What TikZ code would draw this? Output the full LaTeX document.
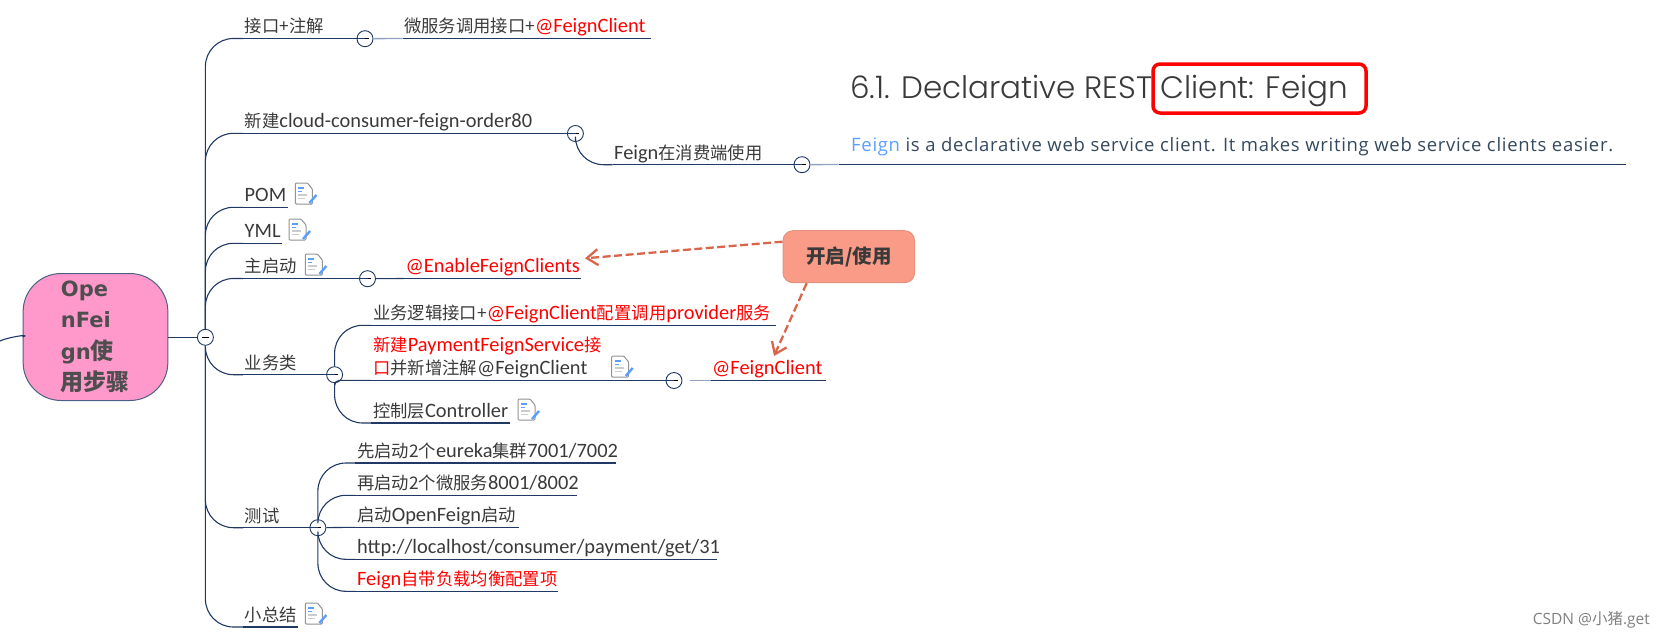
\documentclass[tikz,border=0pt]{standalone}
\usepackage{fontspec}
\setmainfont{Carlito}
\newfontfamily\cjk[Scale=0.85]{Noto Sans CJK SC}
\newfontfamily\cjkfull{Noto Sans CJK SC}
\newfontfamily\headfont{DejaVu Sans}
\newfontfamily\docfont{Poppins Light}
\newfontfamily\bodyfont[LetterSpace=3.8]{Open Sans}
\newfontfamily\markfont{Open Sans}
\definecolor{linknavy}{HTML}{1F3864}
\definecolor{linkpale}{HTML}{8FA3C0}
\definecolor{inkgray}{HTML}{3A3A3A}
\definecolor{rootpink}{HTML}{FF99CC}
\definecolor{noteorange}{HTML}{F99B87}
\definecolor{noteline}{HTML}{D9654B}
\definecolor{docblue}{HTML}{5C9EFF}
\definecolor{docink}{HTML}{34495E}
\usetikzlibrary{arrows.meta,positioning,calc}
\newcommand{\zh}[1]{{\cjk #1}}
\newcommand{\rd}[1]{\textcolor{red}{#1}}
\tikzset{
  topic/.style={text width=#1pt-3pt,anchor=south west,inner xsep=1.5pt,inner ysep=5.5pt,text depth=0pt,align=left,
    font=\fontsize{20.4}{23}\selectfont,text=inkgray},
  link/.style={draw=linknavy,line width=1.1pt,rounded corners=28pt},
  under/.style={draw=linknavy,line width=1.1pt},
  palelink/.style={draw=linkpale,line width=1.3pt},
  fold/.style={circle,draw=linknavy,fill=white,line width=0.9pt,minimum size=16pt,inner sep=0pt,
    path picture={\draw[black,line width=1.1pt]
      ([xshift=-3.5pt]path picture bounding box.center) -- ([xshift=3.5pt]path picture bounding box.center);}},
  callarrow/.style={draw=noteline,line width=2.3pt,dash pattern=on 8pt off 3.5pt,
    -{Straight Barb[length=11pt,width=16pt,line width=2.3pt]}},
  noteicon/.pic={
    \draw[gray!85,fill=white,line width=1pt,rounded corners=1pt] (0,0) -- (12,0) -- (17,6) -- (17,21) -- (0,21) -- cycle;
    \draw[docblue,line width=1.3pt] (3,5) -- (9,5) (3,8.5) -- (7,8.5);
    \draw[gray!40,line width=1.1pt] (3,12) -- (12,12) (3,15.5) -- (10,15.5);
    \draw[docblue,line width=2.4pt] (14,20) -- (21,12);
  }
}
\begin{document}
\begin{tikzpicture}[x=1pt,y=-1pt]
\useasboundingbox (0,0) rectangle (1665,638);

% root
\node[draw=linknavy!80,fill=rootpink,line width=1pt,rounded corners=38pt,minimum width=144.7pt,minimum height=127pt] (root) at (95.5,337) {};
\node[anchor=west,align=left,inner sep=0pt,text=inkgray!90,font=\headfont\bfseries\fontsize{21}{31.3}\selectfont] (roottext) at (60.7,337) {Ope\\nFei\\gn{\cjkfull\fontsize{23}{31.3}\selectfont 使}\\{\cjkfull\fontsize{23}{31.3}\selectfont 用步骤}};
\coordinate (leftstub) at (0,341);
\draw[under] (leftstub) .. controls +(5,-3) and +(10,-4) .. (root.west);
\node[fold] (jroot) at (205.4,337.3) {};
\draw[under] (root.east |- jroot) -- (jroot);

% first level topics
\node[topic=122] (api) at (243,38.5) {\zh{接口+注解}};
\node[fold] (japi) at (365,38.7) {};
\node[topic=248.5] (apidesc) at (402.5,38.5) {\zh{微服务调用接口+}\rd{@FeignClient}};
\node[topic=332.4] (neworder) at (243,133.3) {\zh{新建}cloud-consumer-feign-order80};
\node[fold] (jorder) at (575.4,133.5) {};
\node[topic=189.5] (feignuse) at (612.5,164.7) {Feign\zh{在消费端使用}};
\node[fold] (juse) at (802,164.7) {};
\coordinate (docleft) at (838.6,164.5);
\coordinate (docright) at (1626,164.5);
\node[topic=44.5] (pom) at (243,207.3) {POM};
\node[topic=39] (yml) at (243,243.3) {YML};
\node[topic=124.5] (boot) at (243,278.5) {\zh{主启动}};
\node[fold] (jboot) at (367.5,278.7) {};
\node[topic=177] (enable) at (404,278.5) {\rd{@EnableFeignClients}};
\node[topic=91.6] (service) at (243,374.7) {\zh{业务类}};
\node[fold] (jservice) at (334.6,374.7) {};
\node[topic=75] (test) at (243,527.7) {\zh{测试}};
\node[fold] (jtest) at (317.9,527.7) {};
\node[topic=54.5] (summary) at (243,627) {\zh{小总结}};

% service children
\node[topic=404.6] (logic) at (371.4,325.3) {\zh{业务逻辑接口+}\rd{@FeignClient\zh{配置调用}provider\zh{服务}}};
\coordinate (newifbend) at (345,380.3);
\node[topic=302.6,text depth=23pt] (newif) at (371.4,380.3) {\rd{\zh{新建}PaymentFeignService\zh{接}}\\\rd{\zh{口}}\zh{并新增注解}@FeignClient};
\node[fold] (jnewif) at (674,380.5) {};
\coordinate (clientstub) at (690,380.3);
\node[topic=115.5] (feignclient) at (710.5,380.3) {\mbox{\rd{@FeignClient}}};
\node[topic=138] (control) at (371.4,423) {\zh{控制层}Controller};

% test children
\node[topic=260.6] (eureka) at (355.4,463) {\zh{先启动2个}eureka\zh{集群}7001/7002};
\node[topic=221.2] (micro) at (355.4,495.3) {\zh{再启动2个微服务}8001/8002};
\node[topic=163.2] (ofstart) at (355.4,527.3) {\zh{启动}OpenFeign\zh{启动}};
\node[topic=361.6] (localurl) at (355.4,559.3) {http://localhost/consumer/payment/get/31};
\node[topic=202.6] (balance) at (355.4,591.3) {\rd{Feign\zh{自带负载均衡配置项}}};

% links from the spine
\foreach \t in {api,neworder,pom,yml,boot,service,test,summary}
  \draw[link] (jroot) |- (\t.south west);
\foreach \t in {api,neworder,pom,yml,boot,service,test,summary,logic,newif,control,eureka,micro,ofstart,localurl,balance,feignuse,apidesc,enable,feignclient}
  \draw[under] (\t.south west) -- (\t.south east);
\foreach \t in {logic,control}
  \draw[link] (jservice) |- (\t.south west);
\draw[link,rounded corners=5pt] (jservice) |- (newifbend) -- (newif.south west);
\foreach \t in {eureka,micro,localurl,balance}
  \draw[link] (jtest) |- (\t.south west);
\draw[under] (jtest) -- (ofstart.south west);
\draw[link] (jorder) |- (feignuse.south west);
\draw[palelink] (japi) -- (apidesc.south west);
\draw[palelink] (juse) -- (docleft);
\draw[under] (docleft) -- (docright);
\draw[under] (jboot) -- (enable.south west);
\draw[palelink] (clientstub) -- (feignclient.south west);

% note icons
\pic at (295.4,183) {noteicon};
\pic at (289,219) {noteicon};
\pic at (305.4,254) {noteicon};
\pic at (611.7,356) {noteicon};
\pic at (518,399) {noteicon};
\pic at (305.4,603) {noteicon};

% pasted screenshot
\node[anchor=base west,inner sep=0pt,text=inkgray,font=\docfont\fontsize{31}{31}\selectfont] (doctitle) at (850,98) {6.1. Declarative REST Client: Feign};
\node[anchor=base west,inner sep=0pt,text=docink,font=\bodyfont\fontsize{18.5}{20}\selectfont] (docbody) at (851,151.6) {\textcolor{docblue}{Feign} is a declarative web service client. It makes writing web service clients easier.};
\node[draw=red,line width=3.5pt,rounded corners=7pt,minimum width=213pt,minimum height=49pt] (redbox) at (1259.5,88.5) {};

% callout
\node[draw=noteline!70,fill=noteorange,line width=1pt,rounded corners=10pt,minimum width=131.6pt,minimum height=52pt,text=inkgray,font=\bfseries] (callout) at (848.8,256.7) {\fontsize{19.5}{20}\selectfont{\cjkfull\bfseries 开启/使用}};
\coordinate (calla) at (585,258.3);
\coordinate (callb) at (774,356);
\draw[callarrow] (callout.west |- 0,241.7) -- (calla);
\draw[callarrow] (callout.south west -| 806.7,0) -- (callb);

% watermark
\node[anchor=base east,inner sep=0pt,text=gray,font=\markfont\fontsize{15.5}{16}\selectfont] (mark) at (1650,624.7) {CSDN @{\cjkfull 小猪}.get};
\end{tikzpicture}
\end{document}
